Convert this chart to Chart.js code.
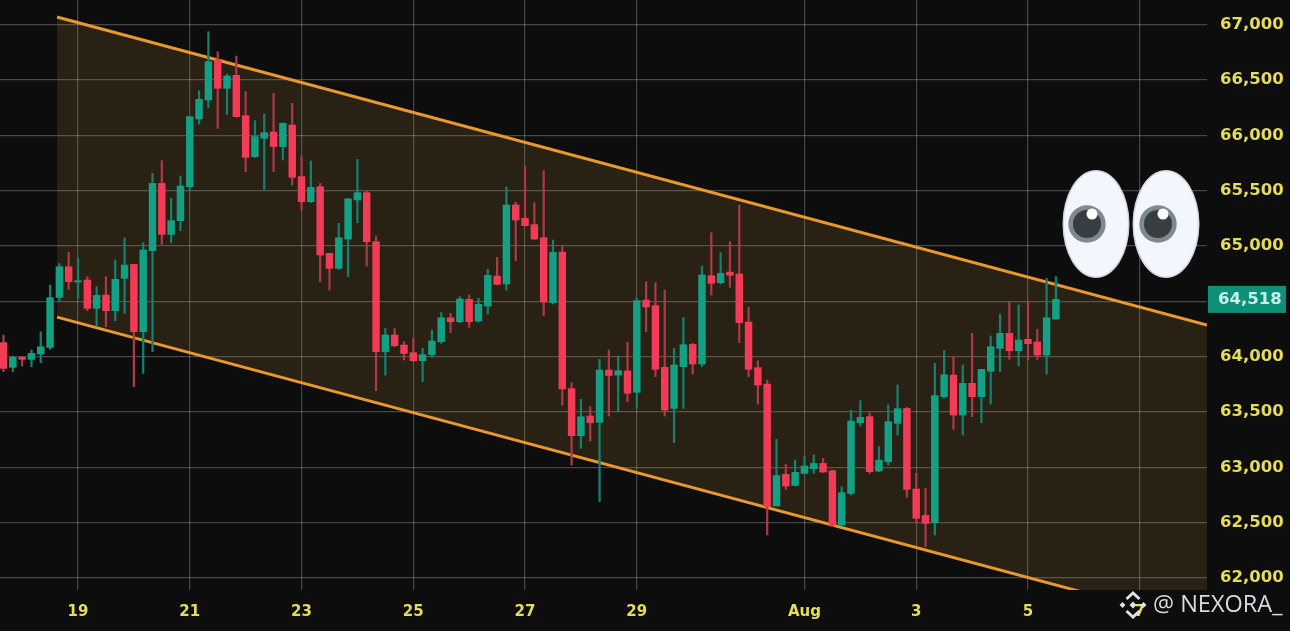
<!DOCTYPE html>
<html>
<head>
<meta charset="utf-8">
<style>
  html, body { margin: 0; padding: 0; background: #0d0d0e; }
  canvas { display: block; }
</style>
<script src="https://cdn.jsdelivr.net/npm/chart.js@4/dist/chart.umd.min.js"></script>
</head>
<body>
<canvas id="chart" width="1290" height="631"></canvas>
<script>
// 4h candles, x is the day number counted from 1 July (Aug 1 = 32)
const firstCandleDay = 19 - 8 / 6;
const candlesPerDay = 6;

const opens = [
  64127, 63904, 63994, 63976, 64024, 64084, 64536, 64813,
  64675, 64693, 64437, 64557, 64416, 64708, 64834, 64226, 64958, 65566,
  65105, 65229, 65536, 66148, 66319, 66681, 66425, 66542, 66178, 65807,
  65973, 66030, 65898, 66093, 65627, 65401, 65536, 64934, 64798, 65063,
  65416, 65482, 65039, 64045, 64196, 64105, 64036, 63964, 64018, 64136,
  64352, 64316, 64518, 64322, 64458, 64729, 64657, 65371, 65250, 65193,
  65075, 64488, 64946, 63711, 63286, 63464, 63407, 63880, 63834, 63871,
  63678, 64512, 64461, 63904, 63533, 63910, 64111, 63934, 64732, 64669,
  64765, 64747, 64313, 63901, 63753, 62651, 62937, 62837, 62946, 62988,
  63036, 62970, 62479, 62765, 63404, 63458, 62967, 63051, 63398, 63533,
  62804, 62566, 62500, 63639, 63834, 63473, 63759, 63639, 63868, 64075,
  64211, 64054, 64157, 64133, 64015, 64340
];
const closes = [
  63895, 63994, 63976, 64030, 64090, 64533, 64813, 64678,
  64687, 64437, 64554, 64416, 64699, 64828, 64226, 64964, 65566, 65105,
  65229, 65542, 66169, 66325, 66666, 66425, 66536, 66169, 65801, 65988,
  66024, 65898, 66108, 65621, 65401, 65530, 64919, 64798, 65075, 65425,
  65482, 65039, 64045, 64196, 64099, 64030, 63964, 64018, 64142, 64352,
  64316, 64521, 64316, 64473, 64735, 64654, 65371, 65235, 65184, 65063,
  64494, 64943, 63708, 63286, 63458, 63404, 63880, 63831, 63874, 63669,
  64506, 64449, 63886, 63518, 63925, 64108, 63934, 64738, 64663, 64753,
  64735, 64307, 63886, 63744, 62645, 62925, 62831, 62955, 63012, 63036,
  62958, 62479, 62771, 63419, 63452, 62961, 63066, 63413, 63530, 62801,
  62539, 62494, 63648, 63837, 63473, 63759, 63639, 63886, 64090, 64211,
  64054, 64151, 64118, 64015, 64352, 64518
];
const highs = [
  64196, 64006, 64000, 64060, 64226, 64648, 64843, 64943,
  64889, 64723, 64633, 64723, 64874, 65075, 64834, 65030, 65657, 65771,
  65431, 65633, 66169, 66404, 66937, 66756, 66554, 66717, 66395, 66133,
  66193, 66380, 66114, 66289, 65807, 65768, 65566, 64934, 65205, 65431,
  65783, 65500, 65090, 64256, 64256, 64136, 64166, 64075, 64241, 64398,
  64392, 64542, 64557, 64527, 64789, 64898, 65536, 65395, 65717, 65392,
  65681, 65054, 65000, 63765, 63615, 63548, 63976, 64060, 64006, 64130,
  64527, 64678, 64669, 64602, 64075, 64355, 64121, 64819, 65121, 64940,
  65039, 65371, 64446, 63964, 63789, 63253, 63027, 63066, 63096, 63112,
  63081, 62976, 62825, 63518, 63602, 63494, 63187, 63563, 63744, 63542,
  62946, 62810, 63940, 64054, 64000, 63925, 64211, 63886, 64187, 64386,
  64497, 64467, 64503, 64247, 64708, 64723
];
const lows = [
  63865, 63865, 63916, 63910, 63946, 64066, 64497, 64608,
  64527, 64416, 64277, 64271, 64325, 64392, 63729, 63849, 64045, 65015,
  65030, 65139, 65506, 66102, 66250, 66063, 66190, 66163, 65672, 65801,
  65512, 65672, 65777, 65551, 65325, 65392, 64678, 64602, 64789, 64723,
  65211, 64819, 63693, 63834, 64090, 63970, 63955, 63774, 63994, 64121,
  64217, 64307, 64265, 64313, 64386, 64648, 64602, 64868, 65181, 65060,
  64371, 64476, 63563, 63021, 63172, 63238, 62690, 63464, 63503, 63593,
  63533, 64226, 63819, 63464, 63223, 63533, 63843, 63910, 64557, 64657,
  64627, 64127, 63819, 63572, 62389, 62651, 62801, 62831, 62940, 62946,
  62952, 62464, 62470, 62750, 63374, 62946, 62961, 63021, 63292, 62729,
  62494, 62283, 62389, 63624, 63343, 63292, 63458, 63404, 63572, 63865,
  63976, 63916, 63970, 63976, 63843, 64337
];

// descending channel
const channelDays = [18.624, 39.204];
const upperChannel = [67070, 64286];
const lowerChannel = [64358, 61571];

const tickDays = [19, 21, 23, 25, 27, 29, 32, 34, 36, 38];
const tickLabels = ['19', '21', '23', '25', '27', '29', 'Aug', '3', '5', '7'];
const priceTicks = [62000, 62500, 63000, 63500, 64000, 64500, 65000, 65500, 66000, 66500, 67000];
const lastPrice = 64518;

const UP = '#14a085';
const DOWN = '#f23b56';
const UP_WICK = '#14806e';
const DOWN_WICK = '#a83a4a';
const AXIS_TEXT = '#e6dc58';
const CHANNEL = '#e8982e';

const candleDay = i => firstCandleDay + i / candlesPerDay;

const wicks = highs.map((h, i) => ({ x: candleDay(i), y: [lows[i], h] }));
const bodies = opens.map((o, i) => ({ x: candleDay(i), y: [Math.min(o, closes[i]), Math.max(o, closes[i])] }));

function ellipse(ctx, x, y, rx, ry, color) {
  ctx.fillStyle = color;
  ctx.beginPath();
  ctx.ellipse(x, y, rx, ry, 0, 0, Math.PI * 2);
  ctx.fill();
}

function drawEye(ctx, x, irisX) {
  ellipse(ctx, x, 224, 33.5, 54, '#cfd6e0');
  ellipse(ctx, x, 224, 32, 52.5, '#f3f6fc');
  ellipse(ctx, irisX, 224, 18.7, 18.7, '#7d8a92');
  ellipse(ctx, irisX, 224, 14, 14, '#3a3d40');
  ellipse(ctx, irisX + 5, 214, 5.5, 5.5, '#ffffff');
}

function drawDiamond(ctx, x, y, r) {
  ctx.beginPath();
  ctx.moveTo(x, y - r);
  ctx.lineTo(x + r, y);
  ctx.lineTo(x, y + r);
  ctx.lineTo(x - r, y);
  ctx.closePath();
  ctx.fill();
}

function drawLogo(ctx, x, y) {
  ctx.fillStyle = '#dfe1e4';
  drawDiamond(ctx, x, y, 3.5);
  drawDiamond(ctx, x - 10.5, y, 3);
  drawDiamond(ctx, x + 10.5, y, 3);
  ctx.strokeStyle = '#dfe1e4';
  ctx.lineWidth = 3;
  ctx.beginPath();
  ctx.moveTo(x - 6.5, y - 6);
  ctx.lineTo(x, y - 12);
  ctx.lineTo(x + 6.5, y - 6);
  ctx.moveTo(x - 6.5, y + 6);
  ctx.lineTo(x, y + 12);
  ctx.lineTo(x + 6.5, y + 6);
  ctx.stroke();
}

const overlays = {
  id: 'overlays',
  afterDraw(chart) {
    const { ctx, chartArea, scales } = chart;
    ctx.save();

    // last price tag
    const tagY = scales.y.getPixelForValue(lastPrice);
    ctx.fillStyle = '#0f8f78';
    ctx.fillRect(chartArea.right + 1, tagY - 13.5, 78, 27);
    ctx.fillStyle = '#c4f2e6';
    ctx.font = 'bold 16.5px "DejaVu Sans"';
    ctx.textAlign = 'left';
    ctx.textBaseline = 'middle';
    ctx.fillText(lastPrice.toLocaleString('en-US'), chartArea.right + 11, tagY + 0.5);

    drawEye(ctx, 1096, 1087);
    drawEye(ctx, 1166, 1158);

    // watermark
    drawLogo(ctx, 1133, 605);
    ctx.fillStyle = '#d8dade';
    ctx.font = '23.5px "Open Sans"';
    ctx.textAlign = 'left';
    ctx.textBaseline = 'middle';
    ctx.fillText('@ NEXORA_', 1153, 605);

    ctx.restore();
  }
};

new Chart(document.getElementById('chart'), {
  type: 'bar',
  data: {
    datasets: [
      {
        type: 'line',
        data: channelDays.map((d, i) => ({ x: d, y: upperChannel[i] })),
        borderColor: CHANNEL,
        borderWidth: 3,
        pointRadius: 0,
        fill: '+1',
        backgroundColor: 'rgba(240, 170, 70, 0.13)',
        order: 4
      },
      {
        type: 'line',
        data: channelDays.map((d, i) => ({ x: d, y: lowerChannel[i] })),
        borderColor: CHANNEL,
        borderWidth: 3,
        pointRadius: 0,
        fill: false,
        order: 3
      },
      {
        data: wicks,
        backgroundColor: opens.map((o, i) => (closes[i] >= o ? UP_WICK : DOWN_WICK)),
        barThickness: 1.6,
        grouped: false,
        order: 2
      },
      {
        data: bodies,
        backgroundColor: opens.map((o, i) => (closes[i] >= o ? UP : DOWN)),
        barThickness: 6.8,
        grouped: false,
        order: 1
      }
    ]
  },
  options: {
    responsive: false,
    devicePixelRatio: 1,
    animation: false,
    layout: { padding: 0 },
    plugins: { legend: { display: false }, tooltip: { enabled: false } },
    scales: {
      x: {
        type: 'linear',
        offset: false,
        min: 17.604,
        max: 39.204,
        afterBuildTicks: axis => { axis.ticks = tickDays.map(value => ({ value })); },
        afterFit: axis => {
          axis.height = 41;
          axis.paddingLeft = 0;
          axis.paddingRight = 0;
        },
        grid: { offset: false, color: 'rgba(255, 255, 255, 0.24)', lineWidth: 1.2, drawTicks: false },
        border: { display: false },
        ticks: {
          color: AXIS_TEXT,
          font: { family: '"DejaVu Sans"', size: 15, weight: 'bold' },
          padding: 13,
          autoSkip: false,
          maxRotation: 0,
          callback: value => tickLabels[tickDays.indexOf(value)]
        }
      },
      y: {
        position: 'right',
        min: 61892,
        max: 67223,
        afterBuildTicks: axis => { axis.ticks = priceTicks.map(value => ({ value })); },
        afterFit: axis => {
          axis.width = 83;
          axis.paddingTop = 0;
          axis.paddingBottom = 0;
        },
        grid: { color: 'rgba(255, 255, 255, 0.24)', lineWidth: 1.2, drawTicks: false },
        border: { display: false },
        ticks: {
          color: AXIS_TEXT,
          font: { family: '"DejaVu Sans"', size: 16.5, weight: 'bold' },
          padding: 13,
          callback: value => value.toLocaleString('en-US')
        }
      }
    }
  },
  plugins: [overlays]
});
</script>
</body>
</html>
